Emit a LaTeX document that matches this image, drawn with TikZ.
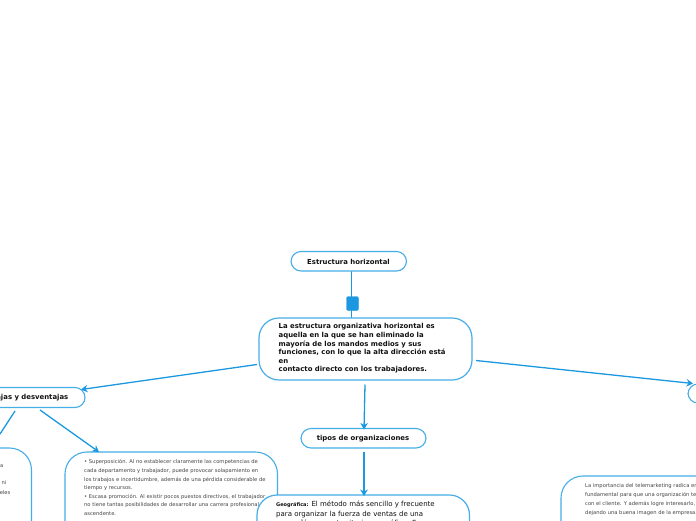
\documentclass[tikz,border=0pt]{standalone}
\usepackage{fontspec}
\setmainfont{DejaVu Sans}
\usetikzlibrary{arrows.meta}
\definecolor{edge}{HTML}{1B98E0}
\definecolor{rim}{HTML}{45ADE8}
\definecolor{ink}{HTML}{111111}
\definecolor{small}{HTML}{444444}
\tikzset{
  box/.style={draw=rim,line width=1.1pt,fill=white,rounded corners=#1},
  box/.default=10pt,
  link/.style={draw=edge,line width=1.3pt},
  arrow/.style={link,-{Stealth[length=6.5pt,width=7.5pt]}},
  head/.style={font=\fontsize{6.9}{9}\selectfont\bfseries,text=ink,inner sep=0pt},
  mainline/.style={font=\fontsize{6.9}{8.6}\selectfont\bfseries,text=ink,inner sep=0pt,align=left,anchor=north west},
  fine/.style={font=\fontsize{5.2}{8.6}\selectfont,text=small,inner sep=0pt,align=left,anchor=north west},
}
\begin{document}
\begin{tikzpicture}[x=1pt,y=-1pt]
\useasboundingbox (0,0) rectangle (696,520);
\clip (0,0) rectangle (696,520);
% nodes
\coordinate (top-s) at (351.5,271);
\coordinate (main-n) at (351.5,318);
\draw[link] (top-s) -- (main-n);
\node[draw=edge,fill=edge,rounded corners=1.5pt,minimum width=12pt,minimum height=14pt,inner sep=0pt] (knob) at (352.5,303.5) {};
\draw[box] (291,251.5) rectangle (406.5,271);
\node[head] (top) at (348.5,261.5) {Estructura horizontal};
\draw[box=20pt,line width=1.2pt] (259,318) rectangle (472,380);
\node[mainline] (main) at (278.5,323.5) {La estructura organizativa horizontal es\\aquella en la que se han eliminado la\\mayoría de los mandos medios y sus\\funciones, con lo que la alta dirección está\\en\\contacto directo con los trabajadores.};
% left
\draw[box] (-60,387.5) rectangle (85,407.5);
\node[head,anchor=east] (adv) at (68.5,397.5) {Ventajas y desventajas};
\draw[box=22pt] (-200,448) rectangle (31.5,560);
\node[fine,anchor=north east] (l1) at (3.5,464.5) {ra};
\node[fine,anchor=north east] (l2) at (6.5,480.5) {ni};
\node[fine,anchor=north east] (l3) at (10.5,490) {reles};
% middle
\draw[box=22pt] (65,452) rectangle (277.5,620);
\node[fine] (mid) at (84,459.5) {• Superposición. Al no establecer claramente las competencias de\\cada departamento y trabajador, puede provocar solapamiento en\\los trabajos e incertidumbre, además de una pérdida considerable de\\tiempo y recursos.\\• Escasa promoción. Al existir pocos puestos directivos, el trabajador\\no tiene tantas posibilidades de desarrollar una carrera profesional\\ascendente.};
% types
\draw[box] (301,428.5) rectangle (426,448);
\node[head] (types) at (363,438.5) {tipos de organizaciones};
\draw[box=20pt,line width=1.2pt] (257,495) rectangle (469.5,640);
\node[inner sep=0pt,align=left,anchor=north west,text=ink,font=\fontsize{7}{9.3}\selectfont] (geo) at (276,501) {{\fontsize{5}{9.3}\selectfont\bfseries Geográfica:} El método más sencillo y frecuente\\para organizar la fuerza de ventas de una\\compañía es por territorio geográfico. En};
% right
\draw[box] (688,384) rectangle (800,403);
\draw[box=22pt] (561,476) rectangle (800,580);
\node[fine,font=\fontsize{5.2}{8.8}\selectfont] (tele) at (585,483.5) {La importancia del telemarketing radica en que es\\fundamental para que una organización tenga contacto\\con el cliente. Y además logre interesarlo, motivarlo,\\dejando una buena imagen de la empresa.};
% connectors
\coordinate (m-w) at (257,364.5);
\coordinate (m-e) at (476,360.5);
\coordinate (m-s) at (365,384.5);
\coordinate (r-w) at (693,383.5);
\coordinate (a-e) at (81,389.5);
\draw[arrow] (m-w) -- (a-e);
\draw[arrow] (m-e) -- (r-w);
\draw[arrow] (m-s) -- (364,429.5);
\draw[arrow] (364,452) -- (364,496);
\draw[arrow] (40,410) -- (99,452);
\draw[link] (15,411) -- (0,434);
\end{tikzpicture}
\end{document}
